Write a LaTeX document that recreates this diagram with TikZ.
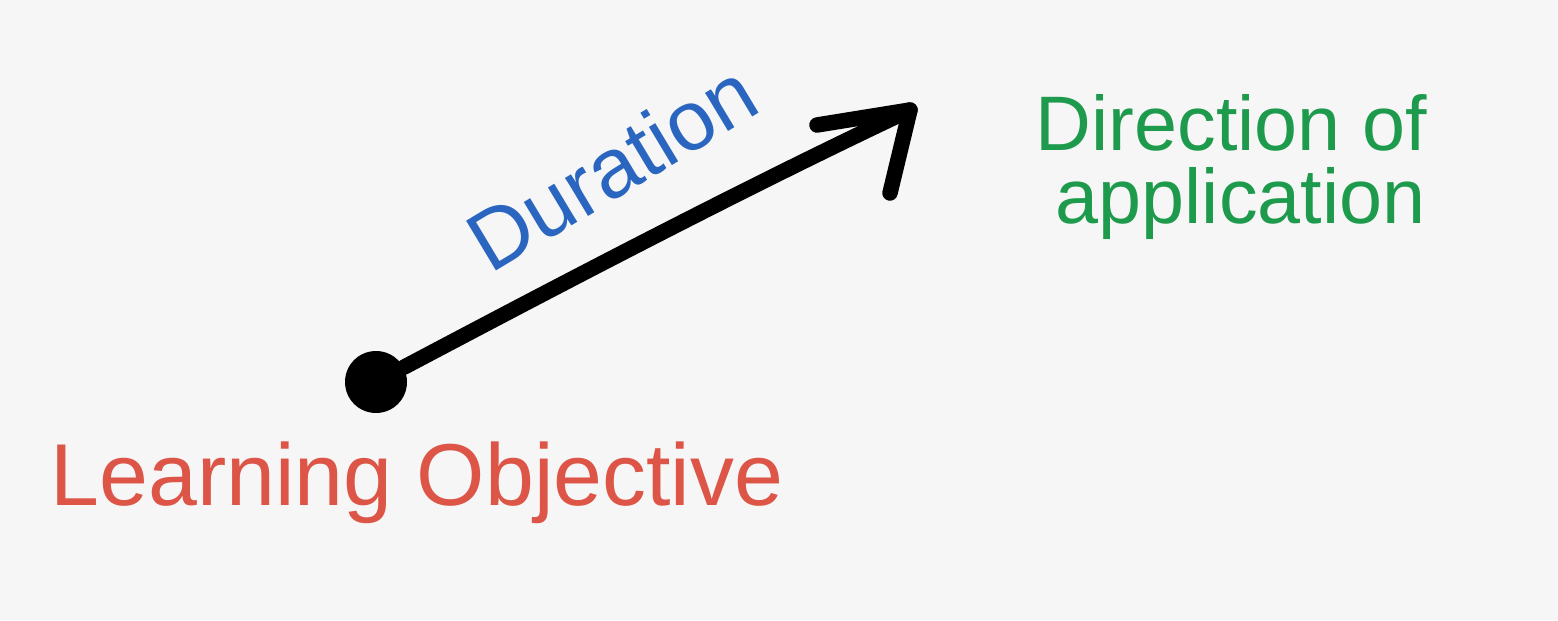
\documentclass[tikz,border=0pt]{standalone}
\usepackage{fontspec}
\setmainfont{Liberation Sans}
\definecolor{paper}{HTML}{F6F6F6}
\definecolor{objred}{HTML}{DD5546}
\definecolor{durblue}{HTML}{2A66BF}
\definecolor{dirgreen}{HTML}{1E9A4C}
\begin{document}
\begin{tikzpicture}[
    pen/.style={draw=black, line width=4.4pt, line cap=round, line join=round},
    objtext/.style={text=objred, font=\fontsize{25}{30}\selectfont, inner sep=0pt},
    durtext/.style={text=durblue, font=\fontsize{24}{28}\selectfont, inner sep=0pt},
    dirtext/.style={text=dirgreen, font=\fontsize{22}{26}\selectfont, inner sep=0pt}]
    %sfondo e riquadro
    \useasboundingbox[fill=paper] (0,0) rectangle (15.58,6.2);

    %punto di partenza e punta della freccia
    \node[circle, fill=black, minimum size=0.62cm, inner sep=0pt] (start) at (3.76,2.38) {};
    \coordinate (tip) at (9.10,5.10);
    \coordinate (headl) at (8.17,4.95);
    \coordinate (headr) at (8.90,4.27);

    \draw[pen] (start) .. controls (5.5,3.3) and (7.4,4.3) .. (tip);
    \draw[pen] (headl) -- (tip) -- (headr);

    %testi
    \node[objtext, anchor=base west] (objective) at (0.50,1.15) {Learning Objective};
    \node[durtext, anchor=base west, rotate=31] (duration) at (4.90,3.45) {Duration};
    \node[dirtext, anchor=base west] (direction) at (10.35,4.70) {Direction of};
    \node[dirtext, anchor=base west] (application) at (10.55,3.96) {application};

\end{tikzpicture}
\end{document}
